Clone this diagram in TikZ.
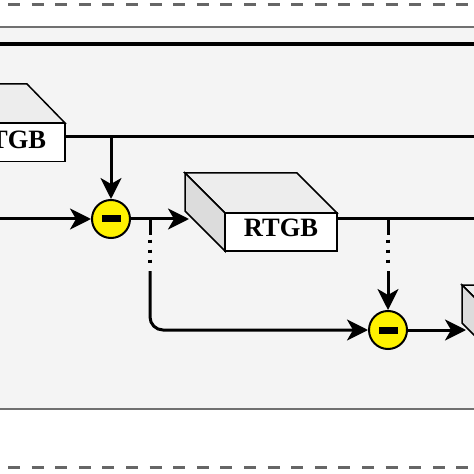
\documentclass[tikz,border=0pt]{standalone}
\usepackage{fontspec}
\setmainfont{Liberation Serif}
\usetikzlibrary{arrows.meta}
\definecolor{bgc}{HTML}{F4F4F4}
\definecolor{dashc}{HTML}{666666}
\definecolor{framec}{HTML}{707070}
\definecolor{topc}{HTML}{EDEDED}
\definecolor{sidec}{HTML}{DCDCDC}
\definecolor{sumyellow}{HTML}{FFF200}
\tikzset{
  dashline/.style={dashc, line width=3bp, dash pattern=on 12bp off 11.6bp},
  frameline/.style={framec, line width=1.2bp},
  conn/.style={black, line width=3bp},
  arr/.style={conn, -{Stealth[length=21bp,width=21bp,inset=6bp]}},
  dotsline/.style={black, line width=3.5bp, dash pattern=on 3bp off 7bp},
  facebox/.style={draw=black, line width=1.5bp, fill=#1, line join=miter},
  frontface/.style={rectangle, draw=black, line width=1.5bp, fill=white, minimum width=112bp, minimum height=38bp, inner sep=0pt},
  lbl/.style={font=\bfseries\fontsize{26.5bp}{30bp}\selectfont, inner sep=0pt},
  sumc/.style={circle, draw=black, line width=2bp, fill=sumyellow, minimum size=38bp, inner sep=0pt}
}
\begin{document}
\begin{tikzpicture}[x=1bp,y=-1bp]
\useasboundingbox (0,0) rectangle (474,474);
\clip (0,0) rectangle (474,474);
% background panel
\fill[bgc] (0,27) rectangle (474,409);
\draw[frameline] (0,27) -- (474,27);
\draw[frameline] (0,409) -- (474,409);
\draw[dashline] (8,5) -- (474,5);
\draw[dashline] (8,467) -- (474,467);
\draw[black, line width=3.5bp] (0,44) -- (474,44);
% left box
\filldraw[facebox=topc] (-47,123) -- (-85,84) -- (27,84) -- (65,123) -- cycle;
\node[frontface] (b1) at (9,142.5) {};
\node[lbl] (t1) at (9,140) {RTGB};
% middle box
\filldraw[facebox=topc] (225,213) -- (185,173) -- (297,173) -- (337,213) -- cycle;
\filldraw[facebox=sidec] (225,213) -- (185,173) -- (185,211) -- (225,251) -- cycle;
\node[frontface] (b2) at (281,232) {};
\node[lbl] (t2) at (281,228) {RTGB};
% right box
\filldraw[facebox=topc] (502,325) -- (462,285) -- (574,285) -- (614,325) -- cycle;
\filldraw[facebox=sidec] (502,325) -- (462,285) -- (462,323) -- (502,363) -- cycle;
\node[frontface] (b3) at (558,344) {};
% summing junctions
\node[sumc] (c1) at (111,219) {\rule[-3.5bp]{19bp}{7bp}};
\node[sumc] (c2) at (388,330) {\rule[-3.5bp]{19bp}{7bp}};
% coordinates
\coordinate (r1) at (474,137);
\coordinate (in) at (0,219);
\coordinate (b2side) at (189,219);
\coordinate (r2) at (474,219);
\coordinate (j1) at (150,219);
\coordinate (j2) at (388,219);
\coordinate (b3side) at (466,330);
% connectors
\draw[conn] (b1.east |- r1) -- (r1);
\draw[arr] (c1 |- r1) -- (c1);
\draw[arr] (in) -- (c1);
\draw[arr] (c1) -- (b2side);
\draw[conn] (b2.east |- r2) -- (r2);
\draw[conn] (j1) -- ++(0,16);
\draw[dotsline] (150,239.5) -- (150,262.5);
\draw[arr, rounded corners=13bp] (150,271) -- (150,330) -- (c2);
\draw[conn] (j2) -- ++(0,16);
\draw[dotsline] (388,239.5) -- (388,262.5);
\draw[arr] (388,271) -- (c2);
\draw[arr] (c2) -- (b3side);
\end{tikzpicture}
\end{document}
